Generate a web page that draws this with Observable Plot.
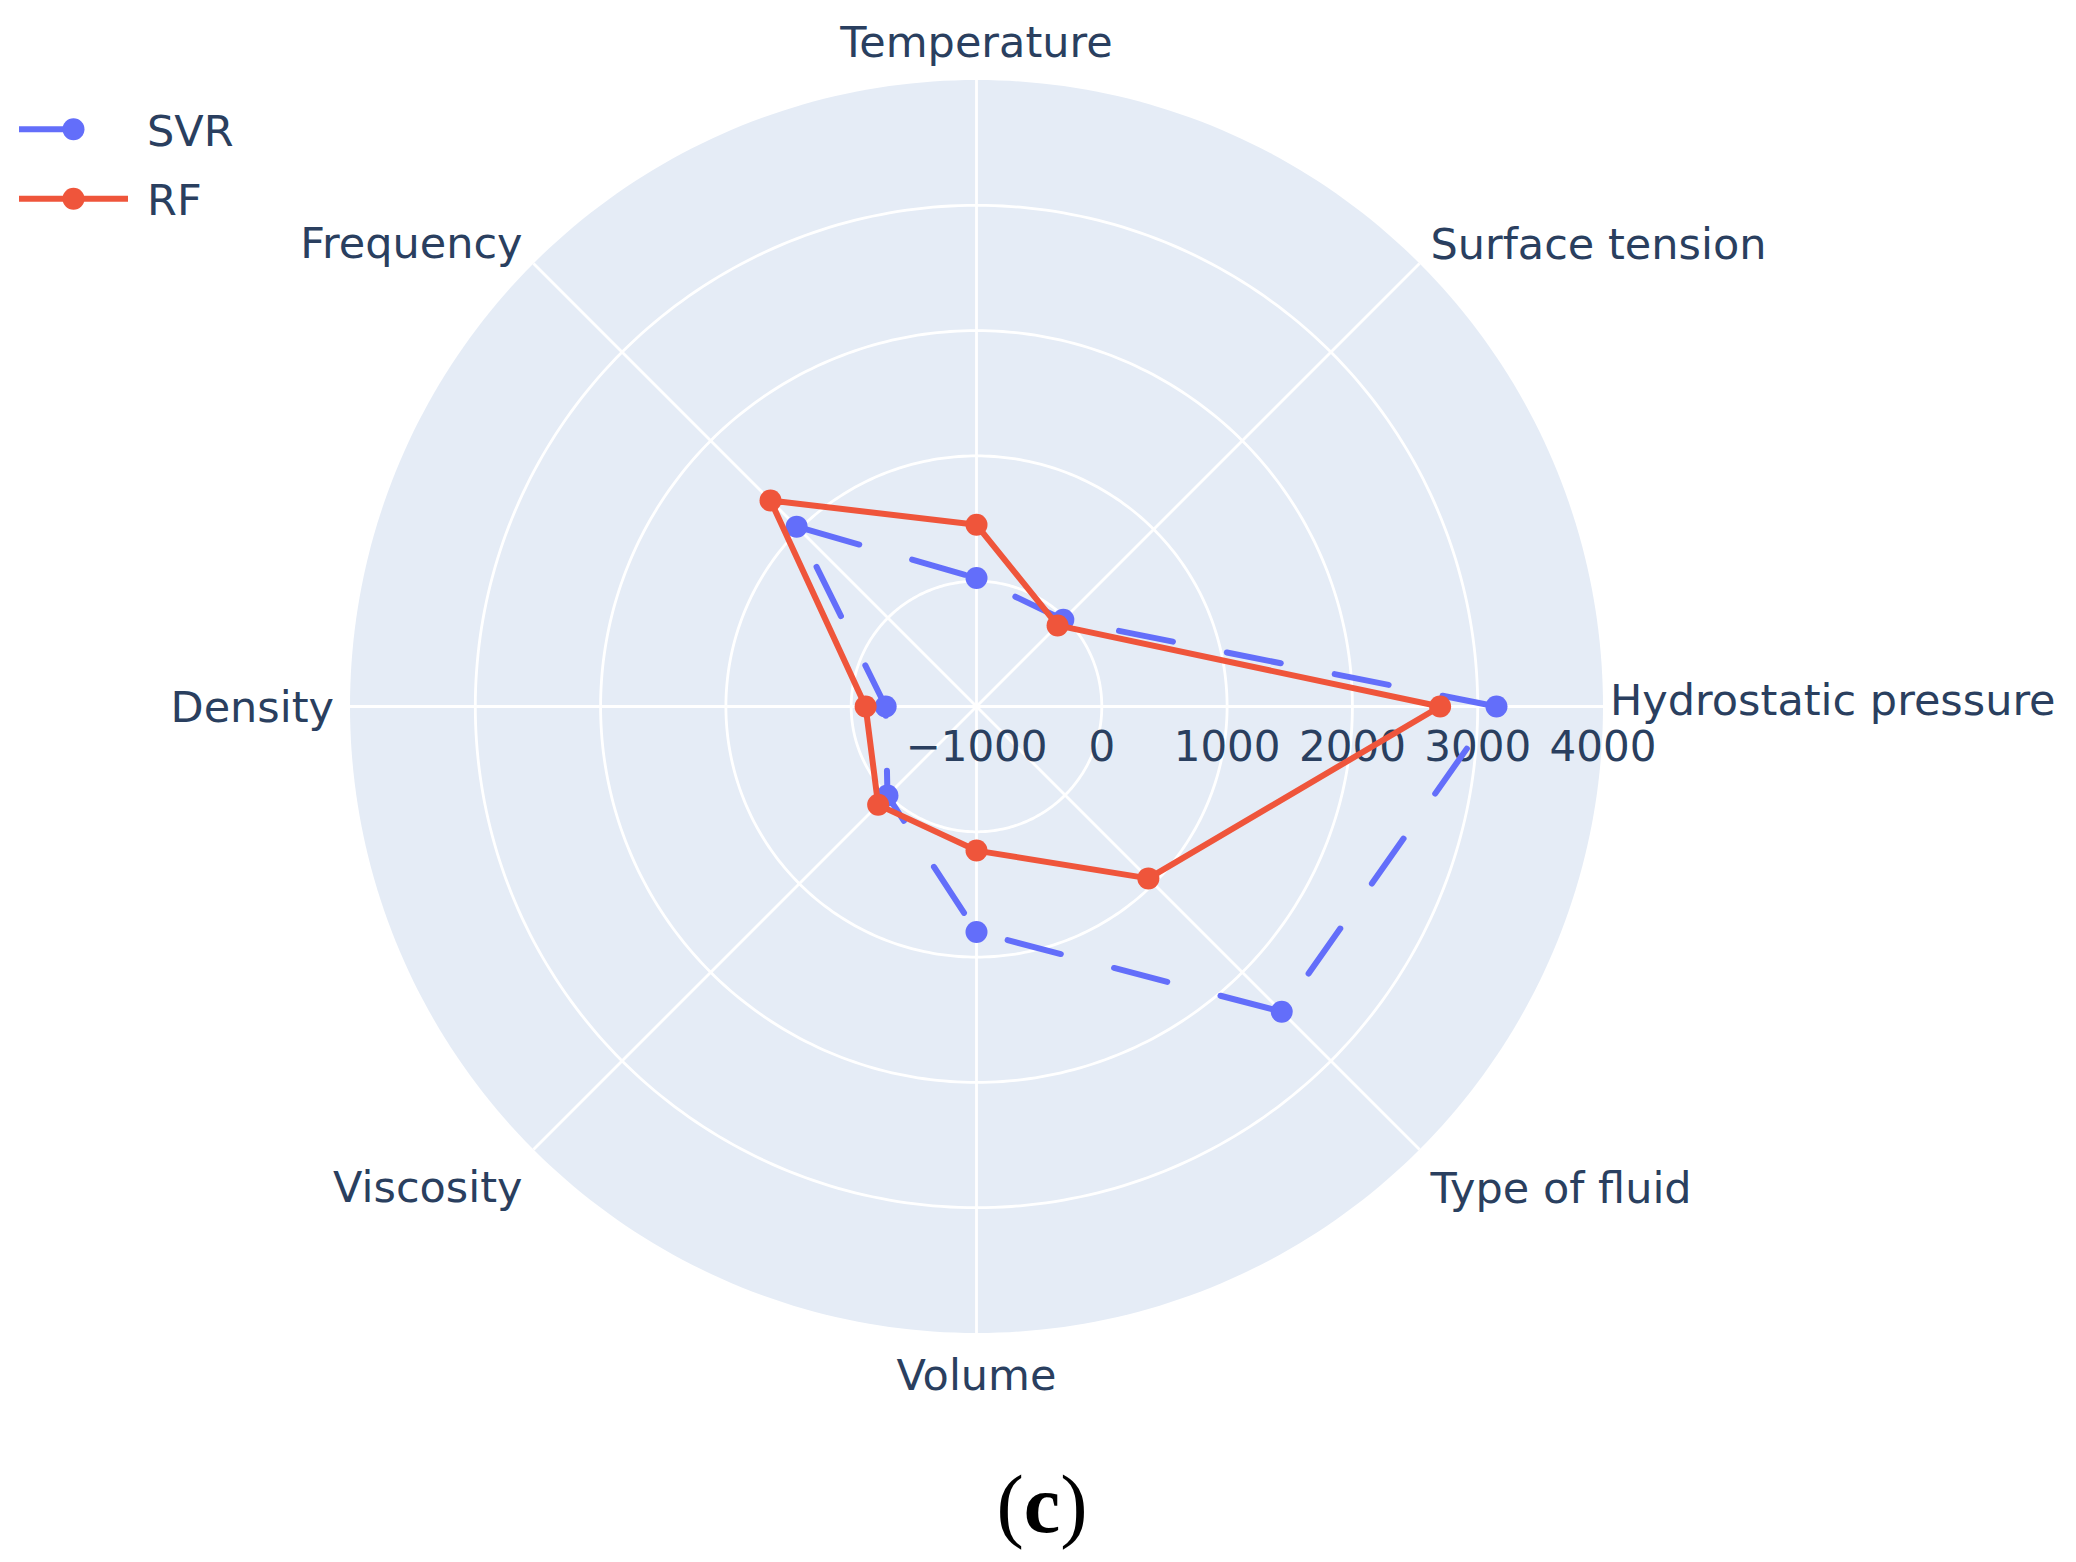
<!DOCTYPE html>
<html>
<head>
<meta charset="utf-8">
<script src="https://cdn.jsdelivr.net/npm/d3@7"></script>
<script src="https://cdn.jsdelivr.net/npm/@observablehq/plot@0.6"></script>
<style>
  html, body { margin: 0; padding: 0; background: white; overflow: hidden; }
  #wrap { position: relative; width: 2076px; height: 1562px; }
  #overlay { position: absolute; left: 0; top: 0; pointer-events: none; }
</style>
</head>
<body>
<div id="wrap"></div>
<script>
// ---- data ----
const categories = ["Hydrostatic pressure", "Surface tension", "Temperature", "Frequency",
                    "Density", "Viscosity", "Volume", "Type of fluid"];
const svrValues = [3150, -20, 25, 1030, -275, 5, 800, 2445];
const rfValues  = [2700, -85, 450, 1325, -115, 110, 150, 940];
const radialTicks = [-1000, 0, 1000, 2000, 3000, 4000];
const seriesNames = ["SVR", "RF"];
const captionText = "c";

// ---- layout / style ----
const W = 2076, H = 1562, CX = 976, CY = 706, RPX = 626.5;
const colors = {SVR: "#636efa", RF: "#EF553B"};
const dashes = {SVR: "55,55", RF: null};
const textColor = "#2a3f5f";
const font = "DejaVu Sans";
const lineW = 6, dotR = 11, gridW = 2.8;
// label placement per angular position (style only)
const labelStyle = [
  {anchor: "start",  dx: 7,   dy: 8},
  {anchor: "start",  dx: 11,  dy: -4},
  {anchor: "middle", dx: 0,   dy: -23},
  {anchor: "end",    dx: -11, dy: -5},
  {anchor: "end",    dx: -16, dy: 15},
  {anchor: "end",    dx: -11, dy: 52},
  {anchor: "middle", dx: 0,   dy: 57},
  {anchor: "start",  dx: 11,  dy: 53}
];

const n = categories.length;
const ang = i => i * 2 * Math.PI / n;
const R0 = radialTicks[0], R1 = radialTicks[radialTicks.length - 1];
const RMAX = R1 - R0;
const rad = v => v - R0;
const k = RPX / RMAX;

const seriesValues = {SVR: svrValues, RF: rfValues};
const rows = seriesNames.flatMap(s => seriesValues[s].map((v, i) => ({series: s, v, i})));
const X = d => rad(d.v) * Math.cos(ang(d.i));
const Y = d => rad(d.v) * Math.sin(ang(d.i));

const circlePts = r => d3.range(0, 360, 1).map(a => ({r, a: a * Math.PI / 180}));
const disk = circlePts(RMAX);
const grid = radialTicks.slice(1, -1).flatMap(t => circlePts(rad(t)));

const marks = [
  Plot.line(disk, {x: d => d.r * Math.cos(d.a), y: d => d.r * Math.sin(d.a),
                   fill: "#e5ecf6", stroke: "none", curve: "linear-closed"}),
  Plot.line(grid, {x: d => d.r * Math.cos(d.a), y: d => d.r * Math.sin(d.a), z: "r",
                   stroke: "white", strokeWidth: gridW, curve: "linear-closed"}),
  Plot.link(categories, {x1: () => 0, y1: () => 0,
                         x2: (d, i) => RMAX * Math.cos(ang(i)), y2: (d, i) => RMAX * Math.sin(ang(i)),
                         stroke: "white", strokeWidth: gridW}),
  Plot.text(radialTicks, {x: t => rad(t), y: () => 0, text: d3.format("d"),
                          dy: 54, lineAnchor: "bottom", textAnchor: "middle",
                          fontSize: 42, fill: textColor, fontFamily: font})
];

seriesNames.forEach(s => {
  const data = rows.filter(d => d.series === s);
  marks.push(Plot.line(data, {x: X, y: Y, stroke: colors[s], strokeWidth: lineW,
                              strokeDasharray: dashes[s] || undefined, curve: "linear-closed",
                              strokeLinejoin: "round"}));
  marks.push(Plot.dot(data, {x: X, y: Y, r: dotR, fill: colors[s], stroke: "none"}));
});

categories.forEach((c, i) => {
  const st = labelStyle[i];
  marks.push(Plot.text([c], {x: () => RMAX * Math.cos(ang(i)), y: () => RMAX * Math.sin(ang(i)),
                             text: d => d, textAnchor: st.anchor, dx: st.dx, dy: st.dy,
                             lineAnchor: "bottom", fontSize: 43, fill: textColor, fontFamily: font}));
});

const chart = Plot.plot({
  width: W, height: H,
  marginTop: 0, marginRight: 0, marginBottom: 0, marginLeft: 0,
  x: {domain: [-CX / k, (W - CX) / k], axis: null},
  y: {domain: [-(H - CY) / k, CY / k], axis: null},
  style: {background: "white", fontFamily: font},
  marks
});
const wrap = document.getElementById("wrap");
wrap.appendChild(chart);

// ---- legend and caption overlay ----
const ov = d3.select(wrap).append("svg").attr("id", "overlay")
  .attr("width", W).attr("height", H);
const leg = ov.selectAll("g.item").data(seriesNames).join("g")
  .attr("class", "item")
  .attr("transform", (d, i) => `translate(0, ${129.3 + i * 69.5})`);
leg.append("line").attr("x1", 19).attr("x2", 128).attr("y1", 0).attr("y2", 0)
  .attr("stroke", d => colors[d]).attr("stroke-width", lineW)
  .attr("stroke-dasharray", d => dashes[d] || null);
leg.append("circle").attr("cx", 73.5).attr("cy", 0).attr("r", dotR).attr("fill", d => colors[d]);
leg.append("text").attr("x", 147).attr("y", 16.5).text(d => d)
  .attr("font-family", font).attr("font-size", 43).attr("fill", textColor);

const cap = ov.append("text").attr("x", 1042).attr("y", 1532).attr("text-anchor", "middle")
  .attr("font-family", "Liberation Serif").attr("font-size", 82).attr("fill", "black");
cap.append("tspan").text("(");
cap.append("tspan").attr("font-weight", "bold").text(captionText);
cap.append("tspan").text(")");
</script>
</body>
</html>
